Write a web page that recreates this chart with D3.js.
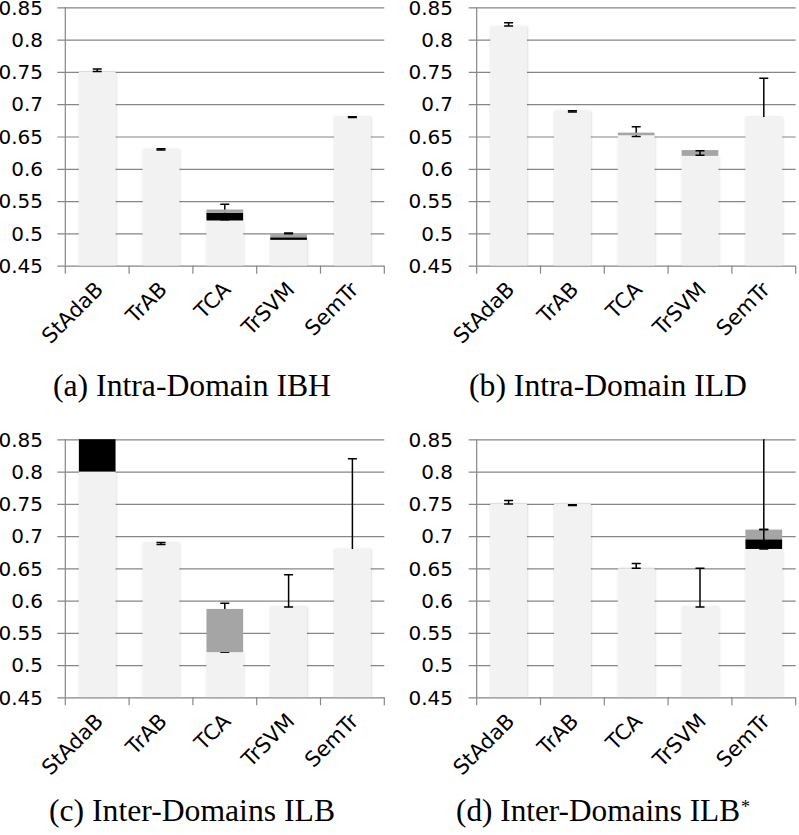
<!DOCTYPE html>
<html>
<head>
<meta charset="utf-8">
<script src="https://cdn.jsdelivr.net/npm/d3@7"></script>
<style>
  body { margin: 0; background: #fff; }
  svg { display: block; }
</style>
</head>
<body>
<div id="chart"></div>
<script>
// categories and ticks
const categories = ["StAdaB", "TrAB", "TCA", "TrSVM", "SemTr"];
const yTicks = [0.45, 0.5, 0.55, 0.6, 0.65, 0.7, 0.75, 0.8, 0.85];

// (a) Intra-Domain IBH : light base, black and gray stacked segments
const ibhBase  = [0.75, 0.63, 0.52, 0.49, 0.68];
const ibhBlack = [0, 0, 0.012, 0.004, 0];
const ibhGray  = [0, 0, 0.005, 0.006, 0];
// error bars: category, layer drawn after (0 base,1 black,2 gray), low, high, low cap
const ibhErr = [
  ["StAdaB", 0, 0.7505, 0.7545, true],
  ["TrAB", 0, 0.629, 0.631, true],
  ["TCA", 0, 0.521, 0.545, true],
  ["TrSVM", 2, 0.4995, 0.5005, true],
  ["SemTr", 0, 0.6795, 0.6805, true]
];

// (b) Intra-Domain ILD
const ildBase  = [0.82, 0.689, 0.652, 0.62, 0.68];
const ildBlack = [0, 0, 0, 0, 0];
const ildGray  = [0, 0, 0.004, 0.009, 0];
const ildErr = [
  ["StAdaB", 0, 0.821, 0.826, true],
  ["TrAB", 0, 0.688, 0.690, true],
  ["TCA", 0, 0.650, 0.665, true],
  ["TrSVM", 2, 0.621, 0.628, true],
  ["SemTr", 0, 0.68, 0.74, false]
];

// (c) Inter-Domains ILB
const ilbBase  = [0.80, 0.689, 0.52, 0.59, 0.68];
const ilbBlack = [0.06, 0, 0, 0, 0];
const ilbGray  = [0, 0, 0.067, 0, 0];
const ilbErr = [
  ["TrAB", 0, 0.687, 0.690, true],
  ["TCA", 0, 0.52, 0.596, true],
  ["TrSVM", 0, 0.59, 0.64, true],
  ["SemTr", 0, 0.68, 0.82, false]
];

// (d) Inter-Domains ILB*
const ilbsBase  = [0.75, 0.75, 0.65, 0.59, 0.68];
const ilbsBlack = [0, 0, 0, 0, 0.015];
const ilbsGray  = [0, 0, 0, 0, 0.015];
const ilbsErr = [
  ["StAdaB", 0, 0.7495, 0.755, true],
  ["TrAB", 0, 0.7475, 0.7485, true],
  ["TCA", 0, 0.650, 0.6575, true],
  ["TrSVM", 0, 0.59, 0.65, true],
  ["SemTr", 2, 0.68, 0.71, true],
  ["SemTr", 2, 0.71, 0.88, true]
];

const width = 799, height = 835;

const svg = d3.select("#chart")
  .append("svg")
  .attr("width", width)
  .attr("height", height);

const defs = svg.append("defs");
defs.append("filter")
  .attr("id", "shadow")
  .attr("x", "-20%").attr("y", "-5%").attr("width", "140%").attr("height", "110%")
  .append("feDropShadow")
  .attr("dx", 0.5).attr("dy", 0).attr("stdDeviation", 1)
  .attr("flood-color", "#000").attr("flood-opacity", 0.18);

const panels = [
  { id: "a", left: 65.3, right: 384.3, top: 7.3, bottom: 265.7, labelX: 43,
    base: ibhBase, black: ibhBlack, gray: ibhGray, err: ibhErr,
    caption: "(a) Intra-Domain IBH", capX: 53, capY: 396, capW: 278 },
  { id: "b", left: 476.7, right: 795.7, top: 7.3, bottom: 265.7, labelX: 453,
    base: ildBase, black: ildBlack, gray: ildGray, err: ildErr,
    caption: "(b) Intra-Domain ILD", capX: 469, capY: 396, capW: 278 },
  { id: "c", left: 65.3, right: 384.3, top: 439.3, bottom: 697.3, labelX: 43,
    base: ilbBase, black: ilbBlack, gray: ilbGray, err: ilbErr,
    caption: "(c) Inter-Domains ILB", capX: 49, capY: 821, capW: 286 },
  { id: "d", left: 476.7, right: 795.7, top: 439.3, bottom: 697.3, labelX: 453,
    base: ilbsBase, black: ilbsBlack, gray: ilbsGray, err: ilbsErr,
    caption: "(d) Inter-Domains ILB", capX: 456, capY: 821, capW: 284, star: true }
];

panels.forEach(p => {
  const g = svg.append("g");

  let x = d3.scaleBand()
    .domain(categories)
    .range([p.left, p.right])
    .paddingInner(0.425)
    .paddingOuter(0.2125);

  let y = d3.scaleLinear()
    .domain([0.45, 0.85])
    .range([p.bottom, p.top]);

  const step = x.step();
  const bw = x.bandwidth();

  defs.append("clipPath")
    .attr("id", "clip-" + p.id)
    .append("rect")
    .attr("x", p.left - 10)
    .attr("y", p.top)
    .attr("width", p.right - p.left + 20)
    .attr("height", p.bottom - p.top);

  // gridlines + y axis
  g.append("g")
    .attr("transform", `translate(${p.left},0)`)
    .call(d3.axisLeft(y)
      .tickValues(yTicks)
      .tickFormat(d3.format("~g"))
      .tickSize(-(p.right - p.left))
      .tickPadding(0))
    .call(ax => ax.select(".domain").remove())
    .call(ax => ax.selectAll(".tick line")
      .attr("x1", -8)
      .attr("stroke", "#868686")
      .attr("stroke-width", 1.2))
    .call(ax => ax.selectAll(".tick text").remove());

  g.selectAll(".ylab")
    .data(yTicks)
    .join("text")
    .attr("x", p.labelX)
    .attr("y", d => y(d))
    .attr("dy", "0.36em")
    .attr("text-anchor", "end")
    .attr("font-family", "DejaVu Sans, sans-serif")
    .attr("font-size", 20)
    .attr("fill", "#000")
    .text(d => d3.format("~g")(d));

  // left axis line
  g.append("line")
    .attr("x1", p.left).attr("x2", p.left)
    .attr("y1", y(0.85)).attr("y2", y(0.45))
    .attr("stroke", "#868686")
    .attr("stroke-width", 1.2);

  // category boundary ticks on the bottom axis
  const bounds = categories.map(c => x(c) - (step - bw) / 2).concat([p.right]);
  g.selectAll(".xtick")
    .data(bounds)
    .join("line")
    .attr("x1", d => d).attr("x2", d => d)
    .attr("y1", y(0.45)).attr("y2", y(0.45) + 8)
    .attr("stroke", "#868686")
    .attr("stroke-width", 1.2);

  // x labels
  g.selectAll(".xlab")
    .data(categories)
    .join("text")
    .attr("transform", d => `translate(${x(d) + bw / 2 + 2},${y(0.45) + 20}) rotate(-45)`)
    .attr("text-anchor", "end")
    .attr("dy", "0.35em")
    .attr("font-family", "DejaVu Sans, sans-serif")
    .attr("font-size", 21)
    .attr("fill", "#000")
    .text(d => d);

  const plot = g.append("g").attr("clip-path", `url(#clip-${p.id})`);

  const rows = categories.map((c, i) => ({
    cat: c,
    b0: 0.45, b1: p.base[i],
    k0: p.base[i], k1: p.base[i] + p.black[i],
    g0: p.base[i] + p.black[i], g1: p.base[i] + p.black[i] + p.gray[i]
  }));

  function drawErr(layer) {
    const eg = plot.append("g")
      .attr("stroke", "#000")
      .attr("stroke-width", 1.5);
    p.err.filter(e => e[1] === layer).forEach(e => {
      const cx = x(e[0]) + bw / 2;
      eg.append("line")
        .attr("x1", cx).attr("x2", cx)
        .attr("y1", y(e[2])).attr("y2", y(e[3]));
      eg.append("line")
        .attr("x1", cx - 4.5).attr("x2", cx + 4.5)
        .attr("y1", y(e[3])).attr("y2", y(e[3]));
      if (e[4]) {
        eg.append("line")
          .attr("x1", cx - 4.5).attr("x2", cx + 4.5)
          .attr("y1", y(e[2])).attr("y2", y(e[2]));
      }
    });
  }

  // light base bars
  plot.selectAll(".bar-base")
    .data(rows)
    .join("rect")
    .attr("x", d => x(d.cat))
    .attr("width", bw)
    .attr("y", d => y(d.b1))
    .attr("height", d => y(d.b0) - y(d.b1))
    .attr("fill", "#f2f2f2")
    .attr("filter", "url(#shadow)");
  drawErr(0);

  plot.selectAll(".bar-black")
    .data(rows.filter(d => d.k1 > d.k0))
    .join("rect")
    .attr("x", d => x(d.cat))
    .attr("width", bw)
    .attr("y", d => y(d.k1))
    .attr("height", d => y(d.k0) - y(d.k1))
    .attr("fill", "#000");
  drawErr(1);

  plot.selectAll(".bar-gray")
    .data(rows.filter(d => d.g1 > d.g0))
    .join("rect")
    .attr("x", d => x(d.cat))
    .attr("width", bw)
    .attr("y", d => y(d.g1))
    .attr("height", d => y(d.g0) - y(d.g1))
    .attr("fill", "#a5a5a5");
  drawErr(2);

  // caption
  const cap = svg.append("text")
    .attr("x", p.capX)
    .attr("y", p.capY)
    .attr("font-family", "Liberation Serif, Times New Roman, serif")
    .attr("font-size", 31)
    .attr("fill", "#000");
  cap.append("tspan")
    .attr("textLength", p.capW)
    .attr("lengthAdjust", "spacingAndGlyphs")
    .text(p.caption);
  if (p.star) {
    cap.append("tspan")
      .attr("x", p.capX + p.capW + 1)
      .attr("dy", "-0.42em")
      .attr("font-size", 18)
      .text("*");
  }
});
</script>
</body>
</html>
